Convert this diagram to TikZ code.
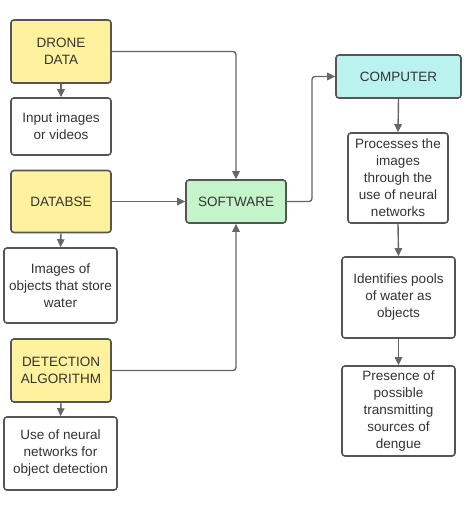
\documentclass[tikz,border=0pt]{standalone}
\usepackage{fontspec}
\setmainfont{Liberation Sans}
\usetikzlibrary{arrows.meta}
\definecolor{bordc}{HTML}{555555}
\definecolor{linec}{HTML}{666666}
\definecolor{txtc}{HTML}{333333}
\definecolor{yel}{HTML}{FFF29E}
\definecolor{grn}{HTML}{C4F4CA}
\definecolor{cyn}{HTML}{B9F2EE}
\tikzset{
  box/.style={draw=bordc, line width=1.6pt, rounded corners=3pt, align=center,
    text=txtc, inner sep=0pt,
    font=\fontsize{13.5}{17}\selectfont},
  ybox/.style={box, fill=yel},
  wbox/.style={box, fill=white},
  conn/.style={draw=linec, line width=1.4pt, rounded corners=3pt,
    -{Triangle[length=8pt,width=7.5pt]}},
}
\begin{document}
\begin{tikzpicture}[x=1pt,y=-1pt]
\useasboundingbox[fill=white] (0,0) rectangle (471,511);
\node[ybox, minimum width=100pt, minimum height=63pt] (drone) at (61,51.5) {DRONE\\DATA};
\node[wbox, minimum width=100pt, minimum height=57pt] (input) at (61,126.5) {Input images\\or videos};
\node[ybox, minimum width=100pt, minimum height=62pt] (db) at (61,201.5) {DATABSE};
\node[wbox, minimum width=113pt, minimum height=75pt] (imgs) at (60.5,285.5) {Images of\\objects that store\\water};
\node[ybox, minimum width=100pt, minimum height=63pt] (det) at (61,370.5) {DETECTION\\ALGORITHM};
\node[wbox, minimum width=113pt, minimum height=73pt] (use) at (60.5,453.5) {Use of neural\\networks for\\object detection};
\node[box, fill=grn, minimum width=100pt, minimum height=43pt] (sw) at (236,201.5) {SOFTWARE};
\node[box, fill=cyn, minimum width=125pt, minimum height=43pt] (comp) at (398.5,76.5) {COMPUTER};
\node[wbox, minimum width=100pt, minimum height=90pt] (proc) at (398,178) {Processes the\\images\\through the\\use of neural\\networks};
\node[wbox, minimum width=113pt, minimum height=81pt] (ident) at (398.5,297.5) {Identifies pools\\of water as\\objects};
\node[wbox, minimum width=113pt, minimum height=90pt] (pres) at (398.5,411) {Presence of\\possible\\transmitting\\sources of\\dengue};
\coordinate (bend) at (312,0);
\draw[conn] (drone.south) -- (input.north);
\draw[conn] (db.south) -- (imgs.north);
\draw[conn] (det.south) -- (use.north);
\draw[conn] (comp.south) -- (proc.north);
\draw[conn] (proc.south) -- (ident.north);
\draw[conn] (ident.south) -- (pres.north);
\draw[conn] (db.east) -- (sw.west);
\draw[conn] (drone.east) -| (sw.north);
\draw[conn] (det.east) -| (sw.south);
\draw[conn] (sw.east) -| (bend |- comp.west) -- (comp.west);
\end{tikzpicture}
\end{document}
